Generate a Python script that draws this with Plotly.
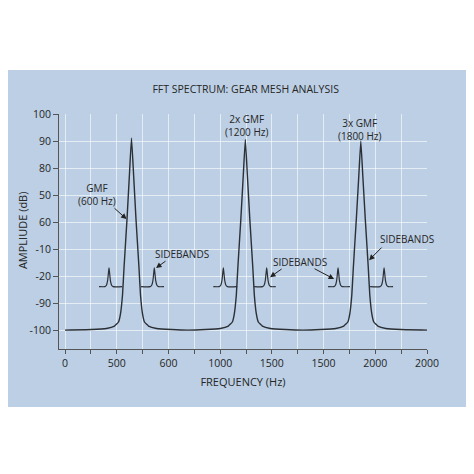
import plotly.graph_objects as go

# ---- data (x in tick-slot units, y in tick-level units) ----
x_tick_text = ["0", "500", "600", "1000", "1500", "1500", "2000", "2000"]
y_tick_text = ["-100", "-90", "-20", "-10", "60", "50", "80", "90", "100"]

spectrum_x = [0.0, 0.512, 0.802, 0.957, 1.035, 1.073, 1.112, 1.141, 1.199, 1.247, 1.286,
              1.325, 1.373, 1.431, 1.460, 1.499, 1.537, 1.615, 1.770, 2.060, 2.38,
              2.713, 3.003, 3.158, 3.236, 3.274, 3.313, 3.342, 3.400, 3.448, 3.487,
              3.526, 3.574, 3.632, 3.661, 3.700, 3.738, 3.816, 3.971, 4.261, 4.60,
              4.946, 5.236, 5.391, 5.469, 5.507, 5.546, 5.575, 5.633, 5.681, 5.720,
              5.759, 5.807, 5.865, 5.894, 5.933, 5.971, 6.049, 6.204, 6.494, 7.0]
spectrum_y = [0.0, 0.02, 0.06, 0.15, 0.30, 0.60, 1.30, 2.30, 4.10, 5.80, 7.11,
              5.80, 4.10, 2.30, 1.30, 0.60, 0.30, 0.15, 0.06, 0.02, 0.0,
              0.02, 0.06, 0.15, 0.30, 0.60, 1.30, 2.30, 4.10, 5.75, 7.06,
              5.75, 4.10, 2.30, 1.30, 0.60, 0.30, 0.15, 0.06, 0.02, 0.0,
              0.02, 0.06, 0.15, 0.30, 0.60, 1.30, 2.30, 4.10, 5.70, 7.00,
              5.70, 4.10, 2.30, 1.30, 0.60, 0.30, 0.15, 0.06, 0.02, 0.0]

sideband_x = [
    [0.658, 0.771, 0.801, 0.823, 0.839, 0.851, 0.863, 0.879, 0.901, 0.931, 1.11],
    [1.470, 1.647, 1.677, 1.699, 1.715, 1.727, 1.739, 1.755, 1.777, 1.807, 1.915],
    [2.868, 2.982, 3.012, 3.034, 3.050, 3.062, 3.074, 3.090, 3.112, 3.142, 3.33],
    [3.656, 3.820, 3.850, 3.872, 3.888, 3.900, 3.912, 3.928, 3.950, 3.980, 4.075],
    [5.087, 5.200, 5.230, 5.252, 5.268, 5.280, 5.292, 5.308, 5.330, 5.360, 5.51],
    [5.900, 6.090, 6.120, 6.142, 6.158, 6.170, 6.182, 6.198, 6.220, 6.250, 6.344],
]
sideband_y = [
    [1.61, 1.61, 1.66, 1.82, 2.10, 2.30, 2.10, 1.82, 1.66, 1.61, 1.61],
] * 6

annotations_text = [
    ("GMF<br>(600 Hz)", 0.613, 5.02),
    ("SIDEBANDS", 2.257, 2.81),
    ("2x GMF<br>(1200 Hz)", 3.515, 7.56),
    ("SIDEBANDS", 4.545, 2.52),
    ("3x GMF<br>(1800 Hz)", 5.687, 7.44),
    ("SIDEBANDS", 6.615, 3.37),
]
# (tail x, tail y, head x, head y)
arrows = [
    (0.928, 4.56, 1.19, 4.11),
    (1.973, 2.59, 1.76, 2.30),
    (4.217, 2.30, 3.965, 1.96),
    (4.797, 2.30, 5.203, 1.89),
    (6.151, 3.11, 5.88, 2.59),
]

LINE = "#2b2f36"
BLUE = "#bccfe4"
GRID = "rgba(255,255,255,0.6)"
TXT = "#262626"
FONT = "Open Sans"

fig = go.Figure()
fig.add_trace(go.Scatter(x=spectrum_x, y=spectrum_y, mode="lines",
                         line=dict(color=LINE, width=1.4, shape="spline", smoothing=0.35),
                         showlegend=False, hoverinfo="skip"))
for sx, sy in zip(sideband_x, sideband_y):
    fig.add_trace(go.Scatter(x=sx, y=sy, mode="lines",
                             line=dict(color=LINE, width=1.2, shape="spline", smoothing=0.6),
                             showlegend=False, hoverinfo="skip"))

anns = []
for t, ax_, ay_ in annotations_text:
    anns.append(dict(x=ax_, y=ay_, xref="x", yref="y", text=t, showarrow=False,
                     font=dict(family=FONT, size=10, color=TXT), align="center"))
for tx, ty, hx, hy in arrows:
    anns.append(dict(x=hx, y=hy, xref="x", yref="y", ax=tx, ay=ty, axref="x", ayref="y",
                     text="", showarrow=True, arrowhead=2, arrowsize=1.1, arrowwidth=1,
                     arrowcolor="#222222", standoff=0))
# rotated y-axis title
anns.append(dict(x=-0.1005, y=0.506, xref="paper", yref="paper", text="AMPLIUDE (dB)",
                 textangle=-90, showarrow=False, xanchor="center", yanchor="middle",
                 font=dict(family=FONT, size=11, color=TXT)))

xt_vals = [i * 0.5 for i in range(15)]
xt_text = []
for i in range(15):
    xt_text.append(x_tick_text[i // 2] if i % 2 == 0 else "")

W = H = 466
fig.update_layout(
    width=W, height=H, autosize=False,
    margin=dict(l=51, r=47, t=106, b=125),
    paper_bgcolor=BLUE, plot_bgcolor="rgba(0,0,0,0)",
    title=dict(text="FFT SPECTRUM: GEAR MESH ANALYSIS", x=0.51, xanchor="center",
               y=1 - 81 / H, yanchor="middle",
               font=dict(family=FONT, size=10.5, color=TXT)),
    annotations=anns,
    shapes=[
        dict(type="rect", xref="paper", yref="paper", x0=-0.3, x1=1.3, y0=1.187, y1=1.6,
             fillcolor="white", line=dict(width=0), layer="below"),
        dict(type="rect", xref="paper", yref="paper", x0=-0.3, x1=1.3, y0=-0.7, y1=-0.247,
             fillcolor="white", line=dict(width=0), layer="below"),
    ],
    font=dict(family=FONT, color=TXT),
)
fig.update_xaxes(range=[-0.116, 7.0], tickmode="array", tickvals=xt_vals, ticktext=xt_text,
                 showgrid=True, gridcolor=GRID, gridwidth=1, zeroline=False,
                 showline=True, linecolor="#555555", linewidth=1,
                 ticks="outside", ticklen=4, tickcolor="#555555",
                 tickfont=dict(family=FONT, size=10.5, color=TXT),
                 title=dict(text="FREQUENCY (Hz)", standoff=9,
                            font=dict(family=FONT, size=11, color=TXT)))
fig.update_yaxes(range=[-0.7, 8.0], tickmode="array", tickvals=list(range(9)),
                 ticktext=y_tick_text,
                 showgrid=True, gridcolor=GRID, gridwidth=1, zeroline=False,
                 showline=True, linecolor="#555555", linewidth=1,
                 ticks="outside", ticklen=5, tickcolor="#555555",
                 tickfont=dict(family=FONT, size=10.5, color=TXT))

fig.write_html("out.html")
